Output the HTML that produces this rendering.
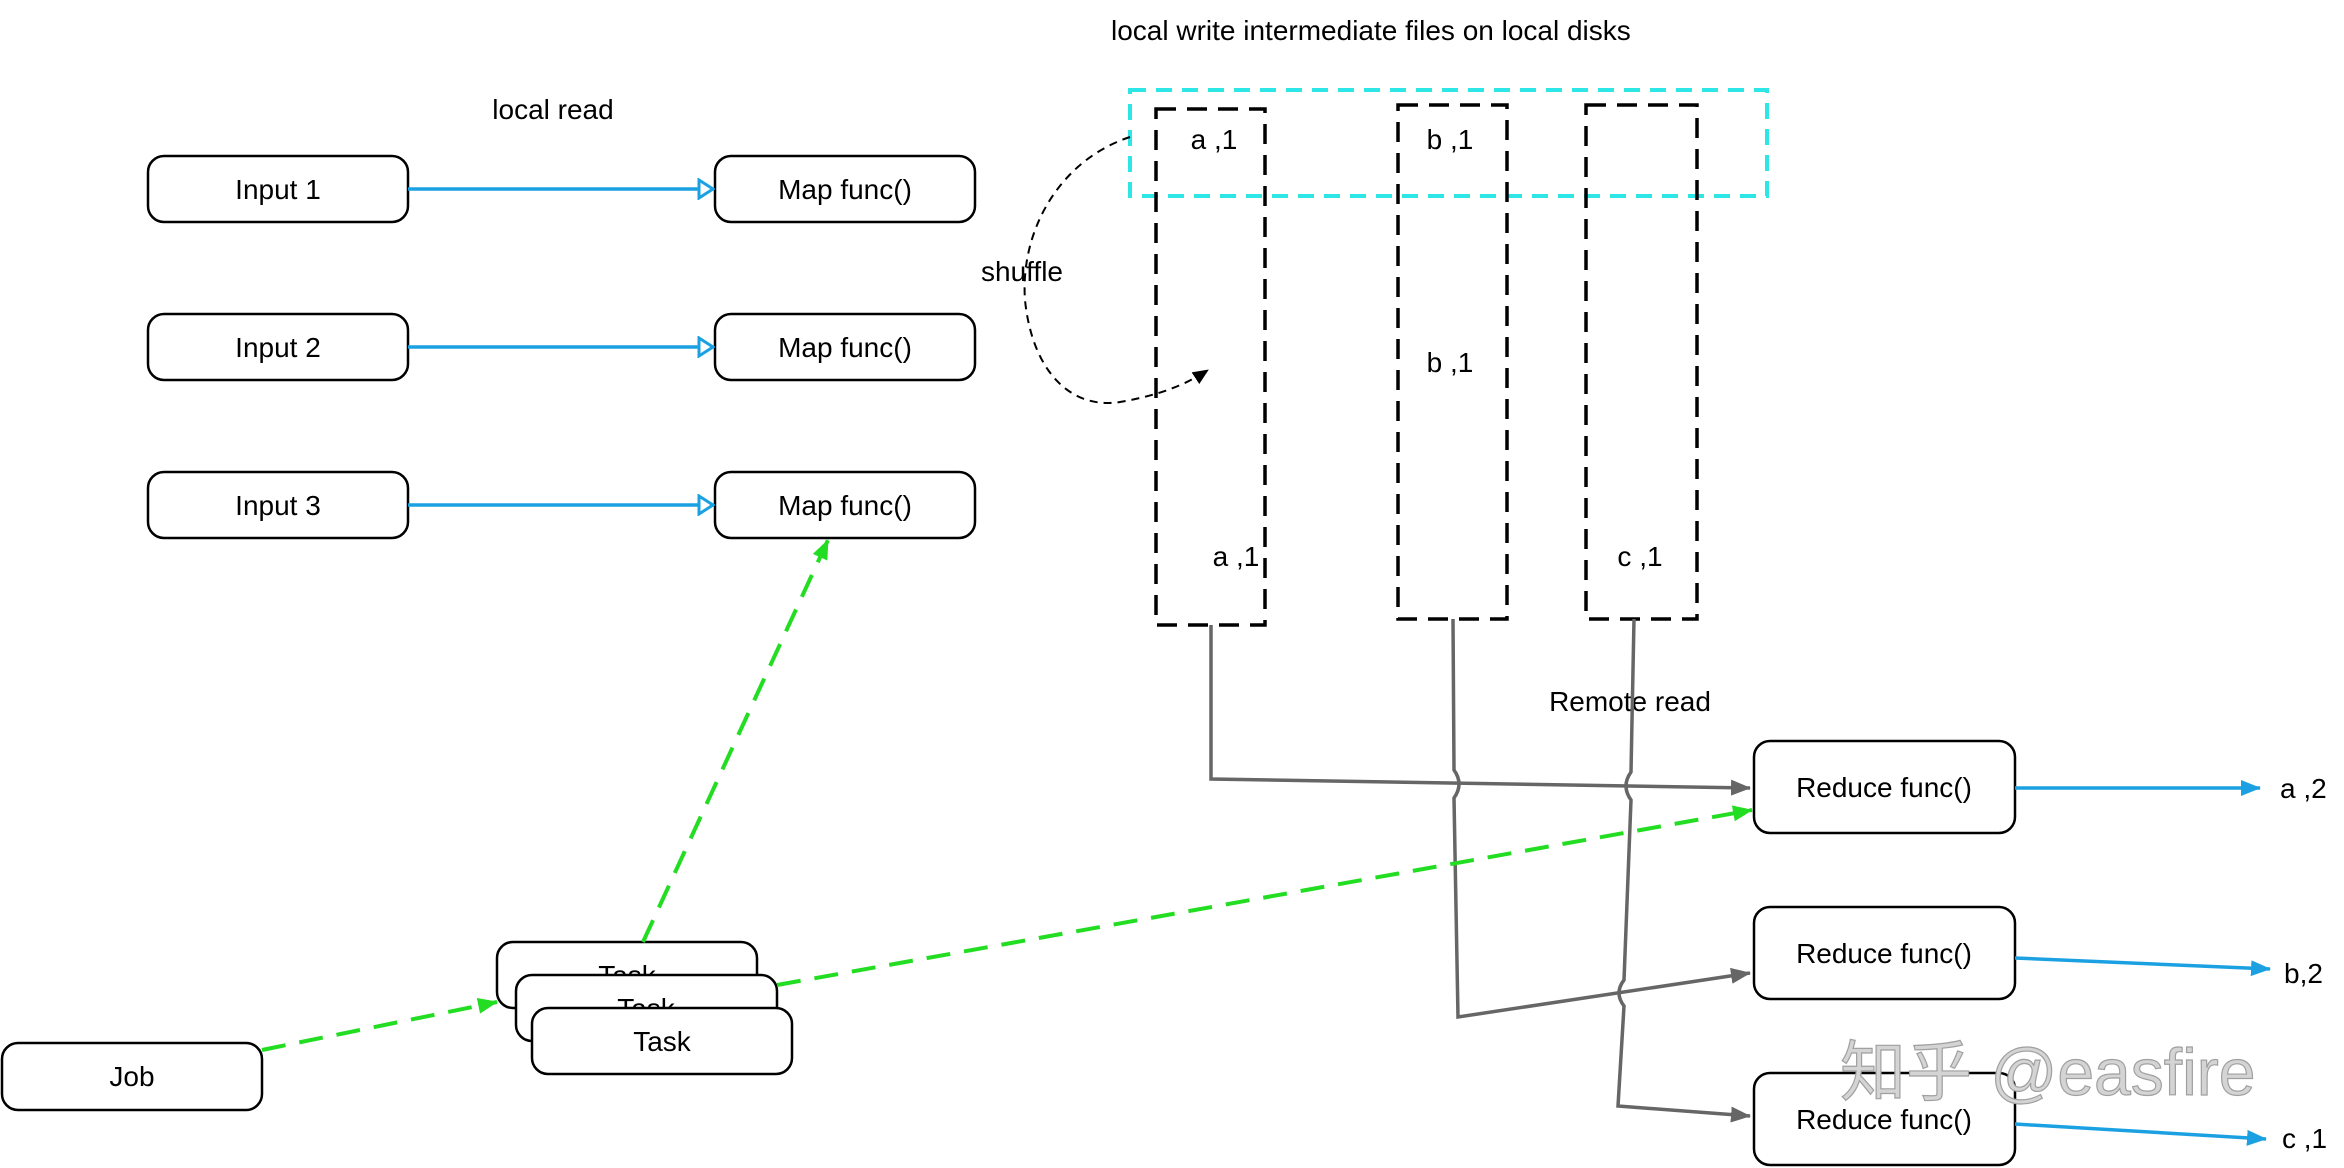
<!DOCTYPE html>
<html><head><meta charset="utf-8"><style>
html,body{margin:0;padding:0;background:#fff}
svg{display:block}
text{font-family:"Liberation Sans","Noto Sans CJK SC",sans-serif;fill:#000}
</style></head><body>
<svg width="2344" height="1168" viewBox="0 0 2344 1168" xmlns="http://www.w3.org/2000/svg">
<defs>
<marker id="ob" markerWidth="18" markerHeight="22" refX="16" refY="11" orient="auto" markerUnits="userSpaceOnUse"><path d="M2,2 L16,11 L2,20 Z" fill="#fff" stroke="#1ba1e2" stroke-width="3"/></marker>
<marker id="fb" markerWidth="20" markerHeight="16" refX="19" refY="8" orient="auto" markerUnits="userSpaceOnUse"><path d="M0,0 L20,8 L0,16 Z" fill="#1ba1e2"/></marker>
<marker id="fg" markerWidth="20" markerHeight="16" refX="19" refY="8" orient="auto" markerUnits="userSpaceOnUse"><path d="M0,0 L20,8 L0,16 Z" fill="#22dd22"/></marker>
<marker id="fy" markerWidth="20" markerHeight="16" refX="19" refY="8" orient="auto" markerUnits="userSpaceOnUse"><path d="M0,0 L20,8 L0,16 Z" fill="#666"/></marker>
<marker id="fk" markerWidth="16" markerHeight="14" refX="15" refY="7" orient="auto" markerUnits="userSpaceOnUse"><path d="M0,0 L16,7 L0,14 Z" fill="#000"/></marker>
</defs>
<g font-size="28">
<text x="553" y="119" text-anchor="middle">local read</text>
<text x="1111" y="40">local write  intermediate files on local disks</text>
<text x="1022" y="281" text-anchor="middle">shuffle</text>
<text x="1630" y="711" text-anchor="middle">Remote read</text>
</g>
<g fill="#fff" stroke="#000" stroke-width="2.5">
<rect x="148" y="156" width="260" height="66" rx="16"/>
<rect x="148" y="314" width="260" height="66" rx="16"/>
<rect x="148" y="472" width="260" height="66" rx="16"/>
<rect x="715" y="156" width="260" height="66" rx="16"/>
<rect x="715" y="314" width="260" height="66" rx="16"/>
<rect x="715" y="472" width="260" height="66" rx="16"/>
</g>
<g font-size="28" text-anchor="middle">
<text x="278" y="199">Input 1</text><text x="278" y="357">Input 2</text><text x="278" y="515">Input 3</text>
<text x="845" y="199">Map func()</text><text x="845" y="357">Map func()</text><text x="845" y="515">Map func()</text>
</g>
<g stroke="#1ba1e2" stroke-width="3.5" fill="none">
<line x1="408" y1="189" x2="713" y2="189" marker-end="url(#ob)"/>
<line x1="408" y1="347" x2="713" y2="347" marker-end="url(#ob)"/>
<line x1="408" y1="505" x2="713" y2="505" marker-end="url(#ob)"/>
</g>
<rect x="1130" y="90" width="637" height="106" fill="none" stroke="#2ee6e6" stroke-width="4" stroke-dasharray="16,10"/>
<g fill="none" stroke="#000" stroke-width="3.5" stroke-dasharray="20,11">
<rect x="1156" y="109" width="109" height="516"/>
<rect x="1398" y="105" width="109" height="514"/>
<rect x="1586" y="105" width="111" height="514"/>
</g>
<g font-size="28" text-anchor="middle">
<text x="1214" y="149">a ,1</text><text x="1450" y="149">b ,1</text><text x="1450" y="372">b ,1</text>
<text x="1236" y="566">a ,1</text><text x="1640" y="566">c ,1</text>
</g>
<path d="M1130,137 C1060,160 1020,230 1025,300 C1032,370 1070,410 1120,402 C1160,395 1185,385 1208,370" fill="none" stroke="#000" stroke-width="2" stroke-dasharray="8,6" marker-end="url(#fk)"/>
<g fill="none" stroke="#666" stroke-width="3.5">
<path d="M1211,625 L1211,779 L1750,788" marker-end="url(#fy)"/>
<path d="M1453,619 L1454,770 Q1464,784 1454,798 L1458,1017 L1750,973" marker-end="url(#fy)"/>
<path d="M1634,619 L1631,772 Q1621,786 1631,800 L1624,980 Q1614,993 1624,1006 L1618,1106 L1750,1116" marker-end="url(#fy)"/>
</g>
<g fill="#fff" stroke="#000" stroke-width="2.5">
<rect x="1754" y="741" width="261" height="92" rx="16"/>
<rect x="1754" y="907" width="261" height="92" rx="16"/>
<rect x="1754" y="1073" width="261" height="92" rx="16"/>
</g>
<g font-size="28" text-anchor="middle">
<text x="1884" y="797">Reduce func()</text><text x="1884" y="963">Reduce func()</text><text x="1884" y="1129">Reduce func()</text>
</g>
<g stroke="#1ba1e2" stroke-width="3.5">
<line x1="2015" y1="788" x2="2260" y2="788" marker-end="url(#fb)"/>
<line x1="2015" y1="958" x2="2270" y2="969" marker-end="url(#fb)"/>
<line x1="2015" y1="1124" x2="2266" y2="1139" marker-end="url(#fb)"/>
</g>
<g font-size="28">
<text x="2280" y="798">a ,2</text><text x="2284" y="983">b,2</text><text x="2282" y="1148">c ,1</text>
</g>
<g fill="#fff" stroke="#000" stroke-width="2.5">
<rect x="497" y="942" width="260" height="66" rx="16"/>
<rect x="516" y="975" width="261" height="66" rx="16"/>
<rect x="532" y="1008" width="260" height="66" rx="16"/>
<rect x="2" y="1043" width="260" height="67" rx="16"/>
</g>
<g font-size="28" text-anchor="middle">
<svg x="497" y="942" width="260" height="33" overflow="hidden"><text x="130" y="43">Task</text></svg>
<svg x="516" y="975" width="261" height="33" overflow="hidden"><text x="130" y="43">Task</text></svg>
<text x="662" y="1051">Task</text>
<text x="132" y="1086">Job</text>
</g>
<g stroke="#22dd22" stroke-width="4" stroke-dasharray="24,14" fill="none">
<line x1="262" y1="1050" x2="497" y2="1002" marker-end="url(#fg)"/>
<line x1="643" y1="942" x2="828" y2="540" marker-end="url(#fg)"/>
<line x1="777" y1="985" x2="1752" y2="810" marker-end="url(#fg)"/>
</g>
<text x="1840" y="1095" font-size="66" style="fill:#d4d4d4;stroke:#a0a0a0;stroke-width:1.2">知乎 @easfire</text>
</svg>
</body></html>
